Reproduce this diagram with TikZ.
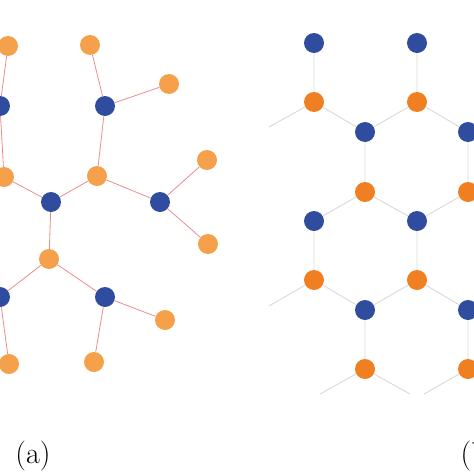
\documentclass[tikz,border=0pt]{standalone}
\begin{document}
\begin{tikzpicture}[x=1pt,y=-1pt,
  lo/.style={circle,fill=lorange,inner sep=0pt,minimum size=20pt},
  lb/.style={circle,fill=lblue,inner sep=0pt,minimum size=20pt},
  ro/.style={circle,fill=rorange,inner sep=0pt,minimum size=20pt},
  rb/.style={circle,fill=rblue,inner sep=0pt,minimum size=20pt},
  pe/.style={draw=pinkline,line width=0.8pt},
  ge/.style={draw=grayline,line width=0.9pt},
  lab/.style={font=\fontsize{30}{34}\selectfont,inner sep=0pt}]
\definecolor{lorange}{HTML}{F5A04A}
\definecolor{lblue}{HTML}{2F4C9F}
\definecolor{rorange}{HTML}{F07F22}
\definecolor{rblue}{HTML}{2F4C9F}
\definecolor{pinkline}{HTML}{EC8C8F}
\definecolor{grayline}{HTML}{D9D9D9}
\useasboundingbox (0,0) rectangle (474,474);
\clip (0,0) rectangle (474,474);
% ---- panel (a)
\node[lo] (a1) at (8,46) {};
\node[lo] (a2) at (90,45) {};
\node[lo] (a3) at (169,84) {};
\node[lo] (a4) at (207,160) {};
\node[lo] (a5) at (97,176) {};
\node[lo] (a6) at (4,177) {};
\node[lo] (a7) at (208,244) {};
\node[lo] (a8) at (49,259) {};
\node[lo] (a9) at (165,320) {};
\node[lo] (a10) at (94,362) {};
\node[lo] (a11) at (9,364) {};
\node[lb] (b1) at (0,106) {};
\node[lb] (b2) at (105,106) {};
\node[lb] (b3) at (51,202) {};
\node[lb] (b4) at (160,202) {};
\node[lb] (b5) at (105,297) {};
\node[lb] (b6) at (0,297) {};
\path[pe] (a1)--(b1) (b1)--(a6) (a2)--(b2) (a3)--(b2) (b2)--(a5)
  (a5)--(b3) (a5)--(b4) (a6)--(b3) (b4)--(a4) (b4)--(a7) (b3)--(a8)
  (a8)--(b5) (a8)--(b6) (b5)--(a9) (b5)--(a10) (b6)--(a11);
\node[lab] (la) at (33,456) {(a)};
% ---- panel (b)
\node[rb] (c1) at (314,43) {};
\node[rb] (c2) at (417,43) {};
\node[ro] (d1) at (314,102) {};
\node[ro] (d2) at (417,102) {};
\node[rb] (c3) at (365,132) {};
\node[rb] (c4) at (468,132) {};
\node[ro] (d3) at (365,192) {};
\node[ro] (d4) at (468,192) {};
\node[rb] (c5) at (314,221) {};
\node[rb] (c6) at (417,221) {};
\node[ro] (d5) at (314,280) {};
\node[ro] (d6) at (417,280) {};
\node[rb] (c7) at (365,310) {};
\node[rb] (c8) at (468,310) {};
\node[ro] (d7) at (365,369) {};
\node[ro] (d8) at (468,369) {};
\coordinate (e1) at (269,127);
\coordinate (e2) at (519,221);
\coordinate (e3) at (269,306);
\coordinate (e4) at (320,394);
\coordinate (e5) at (410,394);
\coordinate (e6) at (424,394);
\coordinate (e7) at (512,394);
\path[ge] (c1)--(d1) (c2)--(d2) (d1)--(c3) (d2)--(c3) (d2)--(c4) (d1)--(e1)
  (c3)--(d3) (c4)--(d4) (d3)--(c5) (d3)--(c6) (d4)--(c6) (d4)--(e2)
  (c5)--(d5) (c6)--(d6) (d5)--(e3) (d5)--(c7) (d6)--(c7) (d6)--(c8)
  (c7)--(d7) (c8)--(d8) (d7)--(e4) (d7)--(e5) (d8)--(e6) (d8)--(e7);
\node[lab] (lb) at (479,456) {(b)};
\end{tikzpicture}
\end{document}
